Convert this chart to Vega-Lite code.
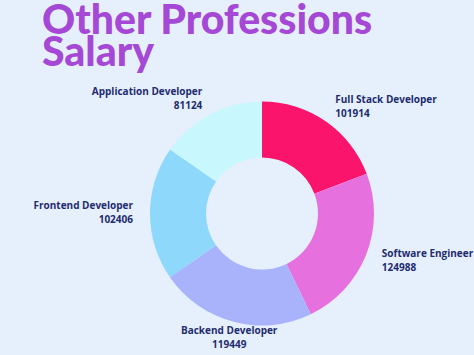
{
  "$schema": "https://vega.github.io/schema/vega-lite/v6.json",
  "width": 474,
  "height": 355,
  "autosize": {"type": "fit", "contains": "padding"},
  "padding": {"left": 42, "top": 1, "right": 0, "bottom": 0},
  "background": "#E6F0FC",
  "title": {
    "text": ["Other Professions", "Salary"],
    "anchor": "start",
    "frame": "group",
    "dx": -8,
    "font": "Lato",
    "fontWeight": 900,
    "fontSize": 41,
    "lineHeight": 32,
    "color": "#A548D6",
    "offset": -3
  },
  "data": {
    "values": [
      {"Role": "Full Stack Developer", "Salary": 101914},
      {"Role": "Software Engineer", "Salary": 124988},
      {"Role": "Backend Developer", "Salary": 119449},
      {"Role": "Frontend Developer", "Salary": 102406},
      {"Role": "Application Developer", "Salary": 81124}
    ]
  },
  "transform": [{"window": [{"op": "row_number", "as": "idx"}]}],
  "encoding": {
    "theta": {"field": "Salary", "type": "quantitative", "stack": true},
    "order": {"field": "idx", "type": "quantitative"}
  },
  "layer": [
    {
      "mark": {"type": "arc", "outerRadius": 112, "innerRadius": 56},
      "encoding": {
        "color": {
          "field": "Role",
          "type": "nominal",
          "legend": null,
          "scale": {
            "domain": ["Full Stack Developer", "Software Engineer", "Backend Developer", "Frontend Developer", "Application Developer"],
            "range": ["#FA146C", "#E670DE", "#A9B3FC", "#8ED8FC", "#C8F8FD"]
          }
        }
      }
    },
    {
      "mark": {
        "type": "text",
        "radius": 129,
        "dy": -7,
        "font": "Open Sans",
        "fontWeight": "bold",
        "fontSize": 10,
        "color": "#1E2C6E",
        "align": {"expr": "datum.Role === 'Frontend Developer' || datum.Role === 'Application Developer' ? 'right' : (datum.Role === 'Backend Developer' ? 'center' : 'left')"}
      },
      "encoding": {"text": {"field": "Role", "type": "nominal"}}
    },
    {
      "mark": {
        "type": "text",
        "radius": 129,
        "dy": 7,
        "font": "Open Sans",
        "fontWeight": "bold",
        "fontSize": 10,
        "color": "#1E2C6E",
        "align": {"expr": "datum.Role === 'Frontend Developer' || datum.Role === 'Application Developer' ? 'right' : (datum.Role === 'Backend Developer' ? 'center' : 'left')"}
      },
      "encoding": {"text": {"field": "Salary", "type": "quantitative", "format": "d"}}
    }
  ]
}
